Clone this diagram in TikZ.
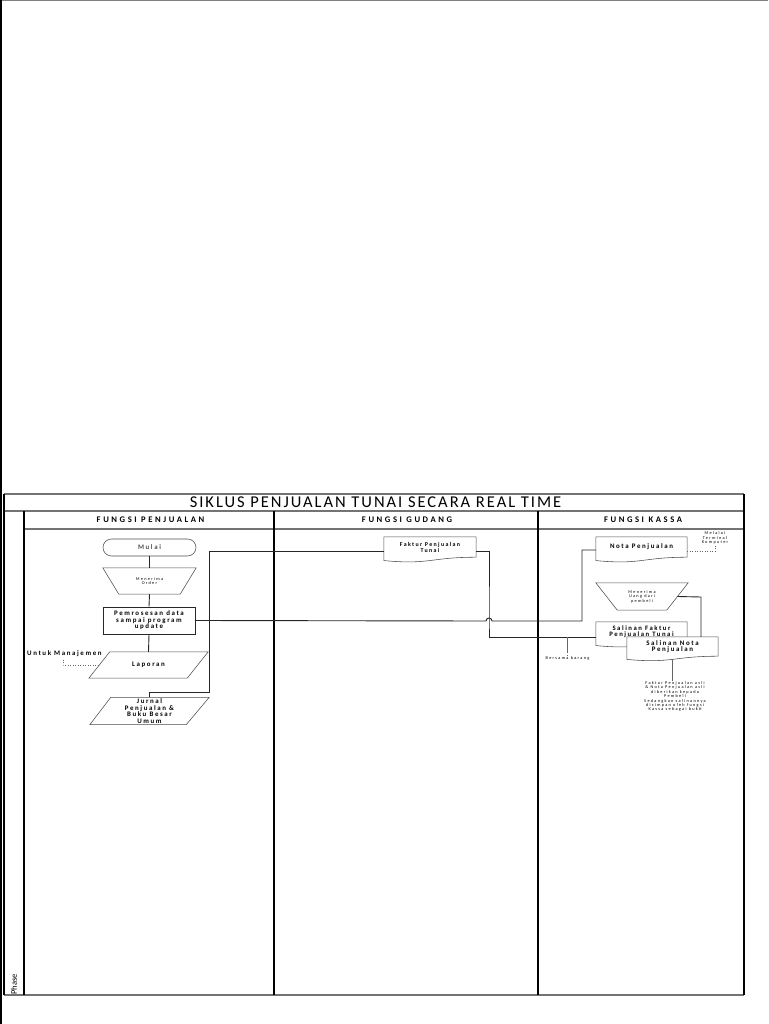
\documentclass[tikz,border=0pt]{standalone}
\usepackage{fontspec}
\setmainfont{Carlito}
\newfontfamily\titlefont[LetterSpace=12]{Carlito}
\newfontfamily\hfont[LetterSpace=30]{Carlito}
\newfontfamily\wfont[LetterSpace=23]{Carlito}
\newfontfamily\tfont[LetterSpace=30]{Carlito}
\usetikzlibrary{calc,backgrounds}
\tikzset{
  frameV/.style={line width=1.1pt, black},
  frameH/.style={line width=1.1pt, black!55},
  conn/.style={line width=0.9pt, black!85},
  shp/.style={line width=0.55pt, black!70},
  annline/.style={line width=0.4pt, black!60},
  dotln/.style={line width=0.5pt, black!60, dotted},
  plain/.style={inner sep=0pt, draw=none, align=center},
  boxtext/.style={font=\wfont\bfseries\fontsize{6.9}{6.4}\selectfont},
  tinytext/.style={font=\tfont\fontsize{4.3}{4.6}\selectfont, align=center},
  headtext/.style={font=\hfont\bfseries\fontsize{8.6}{9}\selectfont},
  term/.style={draw, shp, rounded corners=8.5pt, boxtext, minimum width=93pt, minimum height=17pt, inner sep=0pt},
  procbox/.style={draw, line width=1pt, black!85, boxtext, text=black, align=center, minimum width=92pt, minimum height=27pt, inner sep=0pt},
  docn/.style={plain, boxtext},
}
\newcommand\docshape[2][]{%
  \draw[shp,#1] (#2.north west) -- (#2.north east) -- (#2.south east)
    .. controls (#2.south) and ($(#2.north)!1.38!(#2.south)$) ..
    ($(#2.north west)!1.165!(#2.south west)$) -- cycle;}
\begin{document}
\begin{tikzpicture}[x=1pt,y=-1pt]
\useasboundingbox (0,0) rectangle (768,1024);
% page edges
\draw[line width=1.5pt, black!50] (0,0.5) -- (768,0.5);
\draw[line width=2pt, black] (0.8,0) -- (0.8,1024);
% frame
\draw[frameH] (4,494) -- (744,494);
\draw[frameH] (4,511) -- (744,511);
\draw[frameH] (24,529) -- (744,529);
\draw[frameH] (4,995) -- (744,995);
\draw[frameV] (4,494) -- (4,995);
\draw[frameV] (744,494) -- (744,995);
\draw[frameV] (24,511) -- (24,995);
\draw[frameV] (274,511) -- (274,995);
\draw[frameV] (538,511) -- (538,995);
\node[font=\titlefont\fontsize{16.5}{18}\selectfont, inner sep=0pt] (title) at (375.5,502.5) {SIKLUS PENJUALAN TUNAI SECARA REAL TIME};
\node[headtext, inner sep=0pt] (h1) at (150.5,520) {FUNGSI PENJUALAN};
\node[headtext, inner sep=0pt] (h2) at (407,520) {FUNGSI GUDANG};
\node[headtext, inner sep=0pt] (h3) at (643,520) {FUNGSI KASSA};
\node[font=\fontsize{8.5}{9}\selectfont, rotate=90, anchor=west, inner sep=0pt, black] (phase) at (14,995) {Phase};

% ---------- Fungsi Penjualan ----------
\node[term] (mulai) at (149.5,547.5) {Mulai};
\node[plain, tinytext, minimum width=93pt, minimum height=26pt] (order) at (149.5,581) {Menerima\\Order};
\draw[shp] (order.north west) -- (order.north east) -- ($(order.south east)+(-16,0)$) -- ($(order.south west)+(16,0)$) -- cycle;
\node[procbox] (proc) at (149,620.5) {Pemrosesan data\\sampai program\\update};
\node[plain, boxtext, minimum width=119pt, minimum height=26pt] (lap) at (148.5,665) {Laporan};
\draw[shp] (lap.south west) -- ($(lap.north west)+(21,0)$) -- (lap.north east) -- ($(lap.south east)+(-21,0)$) -- cycle;
\node[plain, boxtext, minimum width=119pt, minimum height=27pt] (jur) at (149.5,711) {Jurnal\\Penjualan \&\\Buku Besar\\Umum};
\draw[shp] (jur.south west) -- ($(jur.north west)+(21,0)$) -- (jur.north east) -- ($(jur.south east)+(-23,0)$) -- cycle;
\node[boxtext, anchor=west, inner sep=0pt] (um) at (27,653.5) {Untuk Manajemen};
\coordinate (u1) at (63,659.5);
\draw[dotln] (u1) |- ($(lap.west)+(10.5,0)$);

\draw[conn] (mulai.south) -- (order.north);
\draw[conn] (order.south) -- (proc.north);
\draw[conn] (proc.south) -- (lap.north);

% ---------- Fungsi Gudang ----------
\node[docn, minimum width=92pt, minimum height=20pt, font=\wfont\bfseries\fontsize{5.9}{6}\selectfont] (fak) at (430,547) {Faktur Penjualan\\Tunai};
\begin{pgfonlayer}{background}\docshape{fak}\end{pgfonlayer}

% ---------- Fungsi Kassa ----------
\node[docn, minimum width=91pt, minimum height=20pt] (nota) at (641.5,547) {Nota Penjualan};
\begin{pgfonlayer}{background}\docshape{nota}\end{pgfonlayer}
\node[tinytext, inner sep=0pt] (mel) at (715,538) {Melalui\\Terminal\\Komputer};
\draw[dotln] ($(nota.east)+(0,4)$) -| (mel.south);

\node[plain, tinytext, minimum width=92pt, minimum height=27pt] (uang) at (642,596.5) {Menerima\\Uang dari\\pembeli};
\draw[shp] (uang.north west) -- (uang.north east) -- ($(uang.south east)+(-21.5,0)$) -- ($(uang.south west)+(21.5,0)$) -- cycle;

\node[docn, minimum width=91pt, minimum height=20pt, font=\wfont\bfseries\fontsize{6.7}{6}\selectfont] (sfak) at (641.5,632) {Salinan Faktur\\Penjualan Tunai};
\node[docn, minimum width=91pt, minimum height=19pt] (snota) at (672.5,646.5) {Salinan Nota\\Penjualan};
\begin{pgfonlayer}{background}
\docshape[fill=white]{sfak}
\docshape[fill=white]{snota}
\end{pgfonlayer}

\node[tinytext, inner sep=0pt] (bb) at (567.5,658.5) {Bersama barang};
\node[tinytext, inner sep=0pt, font=\tfont\fontsize{4.3}{4.4}\selectfont] (ket) at (675,696.5) {Faktur Penjualan asli\\\& Nota Penjualan asli\\diberikan kepada\\Pembeli\\Sedangkan salinannya\\disimpan oleh fungsi\\Kassa sebagai bukti};
\coordinate (snb) at ($(snota.north)!1.163!(snota.south)$);
\draw[annline] (snb) -- (snb |- ket.north);

% ---------- Connectors ----------
\coordinate (j1) at (209,692);
\draw[conn] (jur.north) |- (j1) |- ($(fak.west)+(0,4)$);
\coordinate (hop) at (489,621);
\draw[conn] (proc.east) -- ($(hop)+(-3,0)$) arc (180:360:3) -- (582,621) |- ($(nota.west)+(0,3)$);
\draw[conn] ($(fak.east)+(0,4)$) -| (hop) |- ($(sfak.west)+(0,5)$);
\coordinate (b0) at (567,637);
\coordinate (b1) at (567,652);
\draw[annline] (b0) -- (b1);
\draw[dotln] (b1) -- (bb.north -| b1);
\coordinate (m1) at (701,597);
\draw[conn] ($(uang.east)+(-10.75,0)$) -- (m1) -- (m1 |- snota.north);
\end{tikzpicture}
\end{document}
